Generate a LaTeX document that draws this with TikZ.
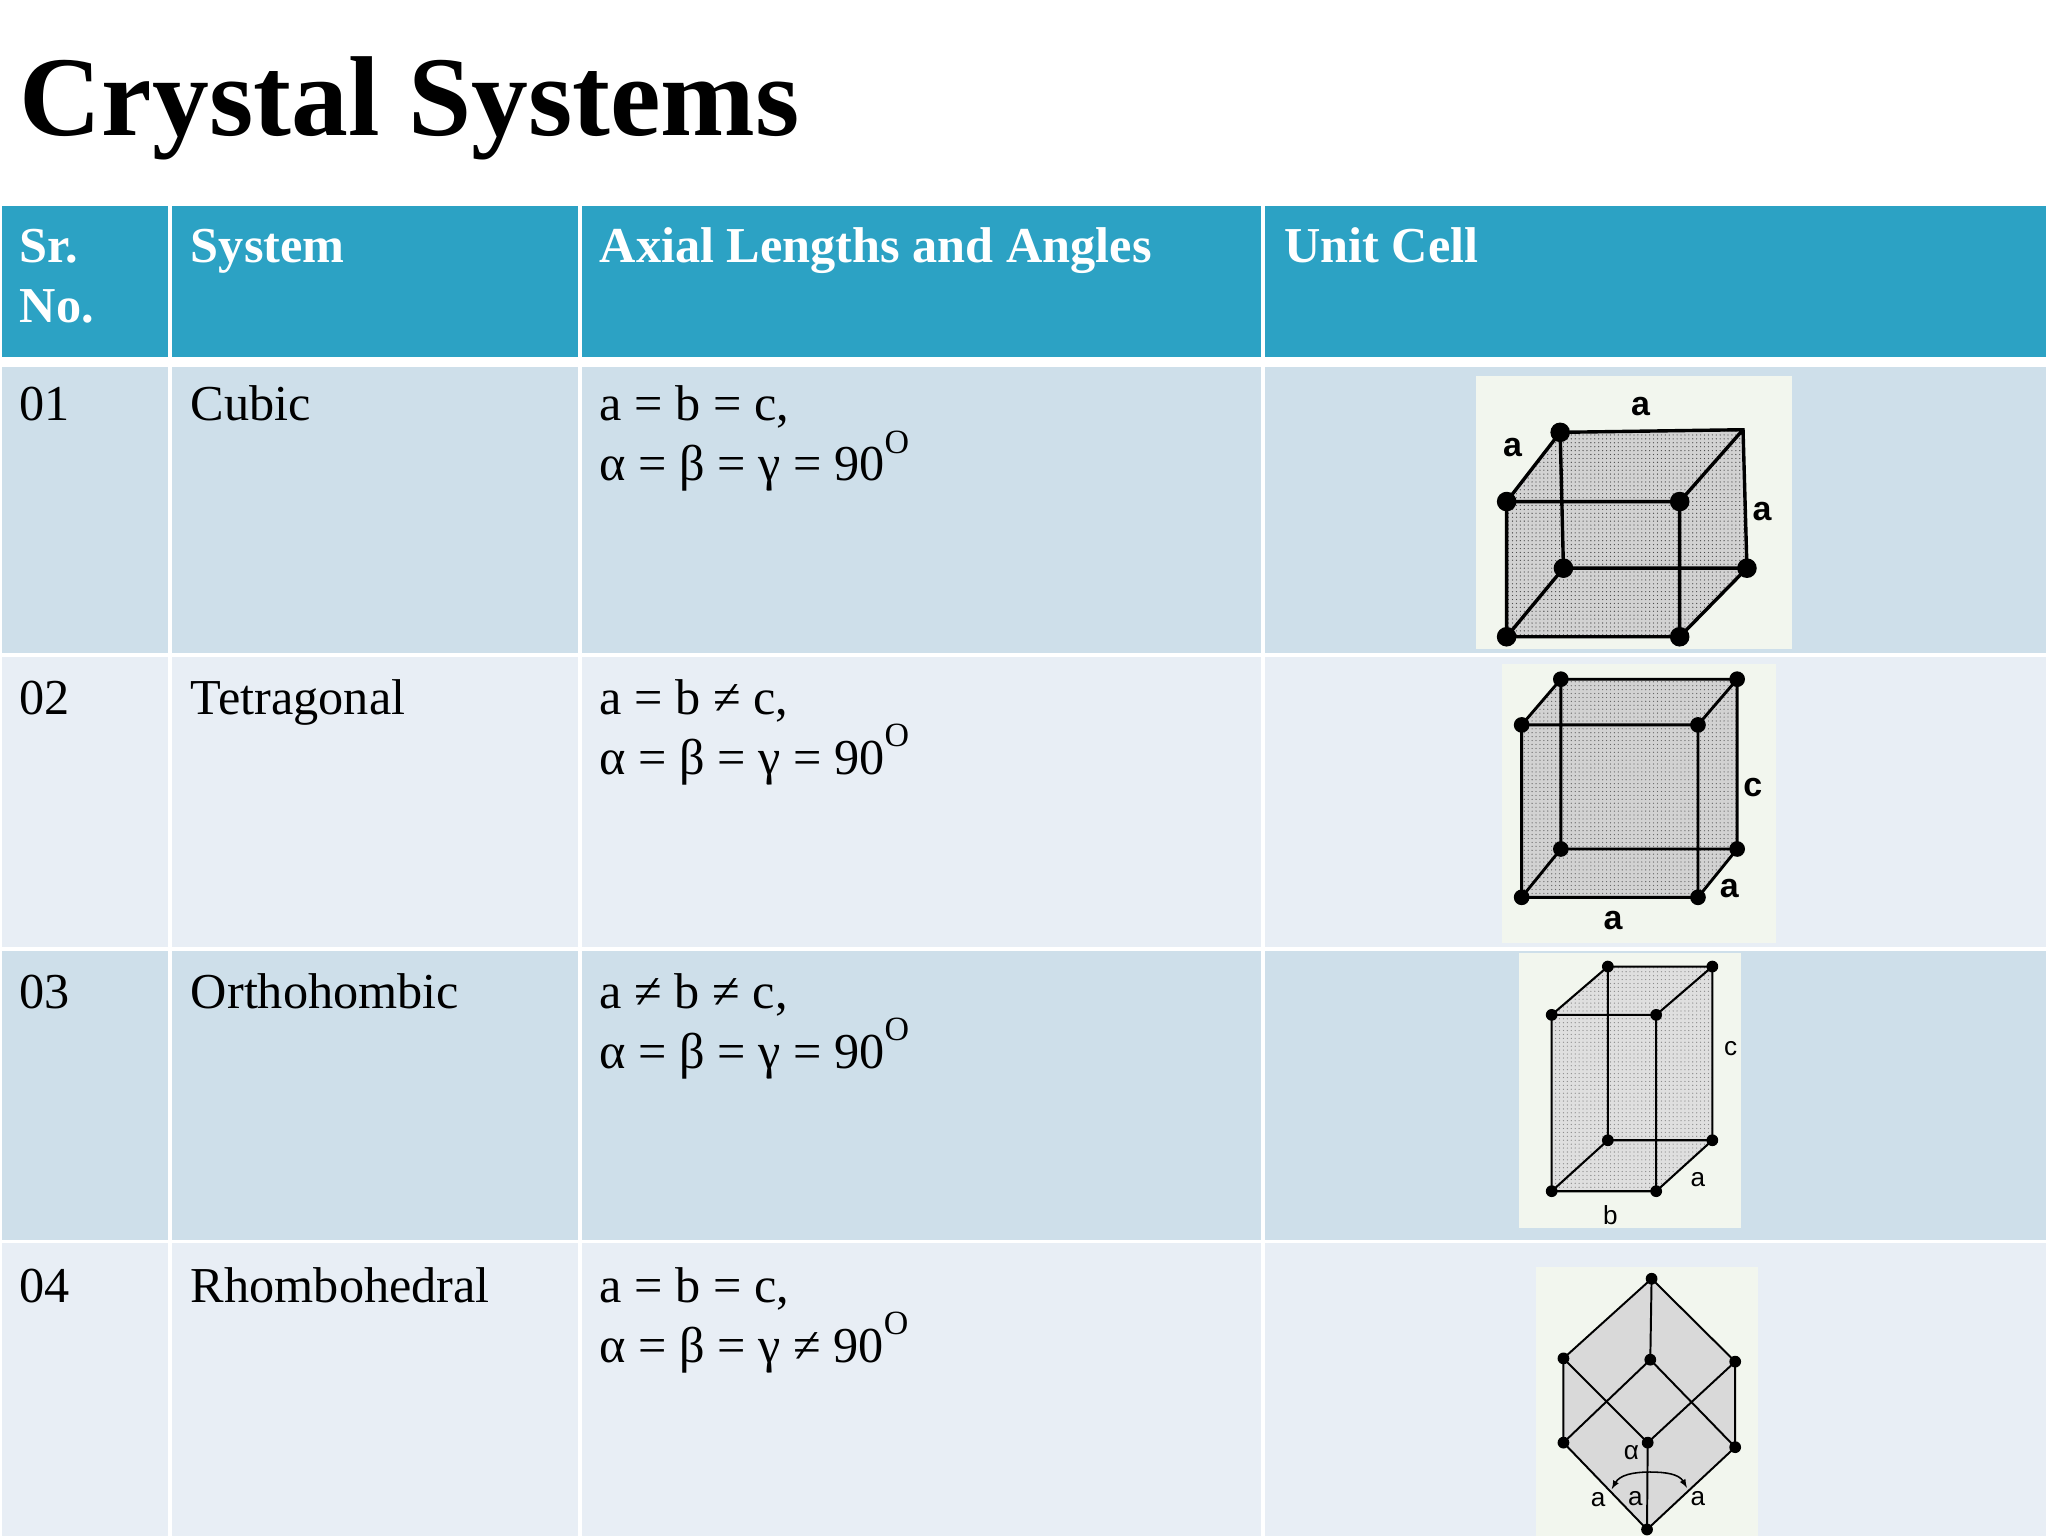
\documentclass[tikz,border=0pt]{standalone}
\usepackage{fontspec}
\setmainfont{Liberation Serif}
\newfontfamily\cellsans{Liberation Sans}
\usetikzlibrary{patterns}
\definecolor{teal}{HTML}{2CA2C4}
\definecolor{rowa}{HTML}{CEDFEA}
\definecolor{rowb}{HTML}{E8EEF5}
\definecolor{imgbg}{HTML}{F2F6EE}
\newcommand{\supO}{\raisebox{0.55em}{\fontsize{26}{28}\selectfont O}}
\tikzset{
 txt/.style={anchor=base west,inner sep=0pt,font=\fontsize{38.5}{42}\selectfont},
 htxt/.style={txt,text=white,font=\fontsize{38.5}{42}\selectfont\bfseries},
 edge/.style={line width=2.6pt,line cap=round},
 face/.style={fill=gray!35},
 vdot/.style={circle,fill=black,inner sep=0pt,minimum size=15pt},
 sdot/.style={circle,fill=black,inner sep=0pt,minimum size=9pt},
 lab/.style={font=\cellsans\bfseries\fontsize{26}{28}\selectfont,inner sep=0pt},
 slab/.style={font=\cellsans\fontsize{20}{22}\selectfont,inner sep=0pt},
}
\begin{document}
\begin{tikzpicture}[x=1pt,y=-1pt]
\useasboundingbox (0,0) rectangle (1568,1176);
\fill[white] (0,0) rectangle (1568,1176);
\node[anchor=base west,inner sep=0pt,font=\fontsize{87}{90}\selectfont\bfseries] (title) at (15,104) {Crystal Systems};
% cells
\foreach \xa/\xb in {0/130,130/444,444/967,967/1568}{
 \fill[teal] (\xa+1.5,158) rectangle (\xb-1.5,273);
 \fill[rowa] (\xa+1.5,281) rectangle (\xb-1.5,500);
 \fill[rowb] (\xa+1.5,503) rectangle (\xb-1.5,725);
 \fill[rowa] (\xa+1.5,728) rectangle (\xb-1.5,949);
 \fill[rowb] (\xa+1.5,952) rectangle (\xb-1.5,1176);
}
\node[htxt] (h1) at (15,201) {Sr.};
\node[htxt] (h1b) at (15,247) {No.};
\node[htxt] (h2) at (146,201) {System};
\node[htxt] (h3) at (459,201) {Axial Lengths and Angles};
\node[htxt] (h4) at (983,201) {Unit Cell};
\foreach \n/\s/\l/\m/\y in {01/Cubic/{a = b = c,}/{α = β = γ = 90\supO}/322,
 02/Tetragonal/{a = b ≠ c,}/{α = β = γ = 90\supO}/547,
 03/Orthohombic/{a ≠ b ≠ c,}/{α = β = γ = 90\supO}/772,
 04/Rhombohedral/{a = b = c,}/{α = β = γ ≠ 90\supO}/997}{
 \node[txt] at (15,\y) {\n};
 \node[txt] at (146,\y) {\s};
 \node[txt] at (459,\y) {\l};
 \node[txt] at (459,\y+46) {\m};
}
% cubic
\fill[imgbg] (1130,288) rectangle (1372,497);
\coordinate (A) at (1194.5,331); \coordinate (B) at (1334.5,329);
\coordinate (C) at (1153.5,384); \coordinate (D) at (1286,384);
\coordinate (E) at (1197,435); \coordinate (F) at (1337.5,435);
\coordinate (G) at (1153.5,487.5); \coordinate (H) at (1286,487.5);
\fill[face] (A)--(B)--(F)--(H)--(G)--(C)--cycle;
\fill[pattern=dots,pattern color=black!70] (A)--(B)--(F)--(H)--(G)--(C)--cycle;
\draw[edge] (A)--(B)--(F)--(E)--cycle (C)--(D)--(H)--(G)--cycle (A)--(C) (B)--(D) (E)--(G) (F)--(H);
\foreach \p in {A,C,D,E,F,G,H} \node[vdot] at (\p) {};
\node[lab] at (1256,311) {a}; \node[lab] at (1158,343) {a}; \node[lab] at (1349,392) {a};
% tetragonal
\fill[imgbg] (1150,508) rectangle (1360,722);
\coordinate (A) at (1195,520); \coordinate (B) at (1330,520);
\coordinate (C) at (1165,555); \coordinate (D) at (1300,555);
\coordinate (E) at (1195,650); \coordinate (F) at (1330,650);
\coordinate (G) at (1165,687); \coordinate (H) at (1300,687);
\fill[face] (A)--(B)--(F)--(H)--(G)--(C)--cycle;
\fill[pattern=dots,pattern color=black!60] (A)--(B)--(F)--(H)--(G)--(C)--cycle;
\draw[edge,line width=2.2pt] (A)--(B)--(F)--(E)--cycle (C)--(D)--(H)--(G)--cycle (A)--(C) (B)--(D) (E)--(G) (F)--(H);
\foreach \p in {A,B,C,D,E,F,G,H} \node[vdot,minimum size=12pt] at (\p) {};
\node[lab] at (1342,603) {c}; \node[lab] at (1324,680) {a}; \node[lab] at (1235,705) {a};
% orthorhombic
\fill[imgbg] (1163,730) rectangle (1333,940);
\coordinate (A) at (1231,740); \coordinate (B) at (1311,740);
\coordinate (C) at (1188,777); \coordinate (D) at (1268,777);
\coordinate (E) at (1231,873); \coordinate (F) at (1311,873);
\coordinate (G) at (1188,912); \coordinate (H) at (1268,912);
\fill[face,fill=gray!25] (A)--(B)--(F)--(H)--(G)--(C)--cycle;
\fill[pattern=dots,pattern color=black!45] (A)--(B)--(F)--(H)--(G)--(C)--cycle;
\draw[edge,line width=1.6pt] (A)--(B)--(F)--(E)--cycle (C)--(D)--(H)--(G)--cycle (A)--(C) (B)--(D) (E)--(G) (F)--(H);
\foreach \p in {A,B,C,D,E,F,G,H} \node[sdot] at (\p) {};
\node[slab] at (1325,803) {c}; \node[slab] at (1300,903) {a}; \node[slab] at (1233,930) {b};
% rhombohedral
\fill[imgbg] (1176,970) rectangle (1346,1176);
\coordinate (T) at (1264.5,979); \coordinate (L) at (1197,1040);
\coordinate (M) at (1263.5,1041); \coordinate (R) at (1328.5,1042.5);
\coordinate (LL) at (1197,1104.5); \coordinate (LM) at (1261.5,1104.5);
\coordinate (LR) at (1328.5,1108); \coordinate (Bt) at (1261,1171);
\fill[gray!30] (T)--(R)--(LR)--(Bt)--(LL)--(L)--cycle;
\draw[line width=1.5pt] (T)--(L) (T)--(R) (T)--(M) (L)--(LL) (R)--(LR) (M)--(LL) (M)--(LR)
 (L)--(LM) (R)--(LM) (LL)--(Bt) (LR)--(Bt) (LM)--(Bt);
\foreach \p in {T,L,M,R,LL,LM,LR,Bt} \node[sdot] at (\p) {};
\coordinate (ar1) at (1234,1140); \coordinate (ar2) at (1291.5,1139);
\draw[line width=1.2pt,-latex] (1263,1127) to[out=180,in=60] (ar1);
\draw[line width=1.2pt,-latex] (1263,1127) to[out=0,in=120] (ar2);
\node[slab] at (1249,1112) {α};
\node[slab] at (1223.5,1148) {a}; \node[slab] at (1252,1147) {a}; \node[slab] at (1300,1147) {a};
\end{tikzpicture}
\end{document}
